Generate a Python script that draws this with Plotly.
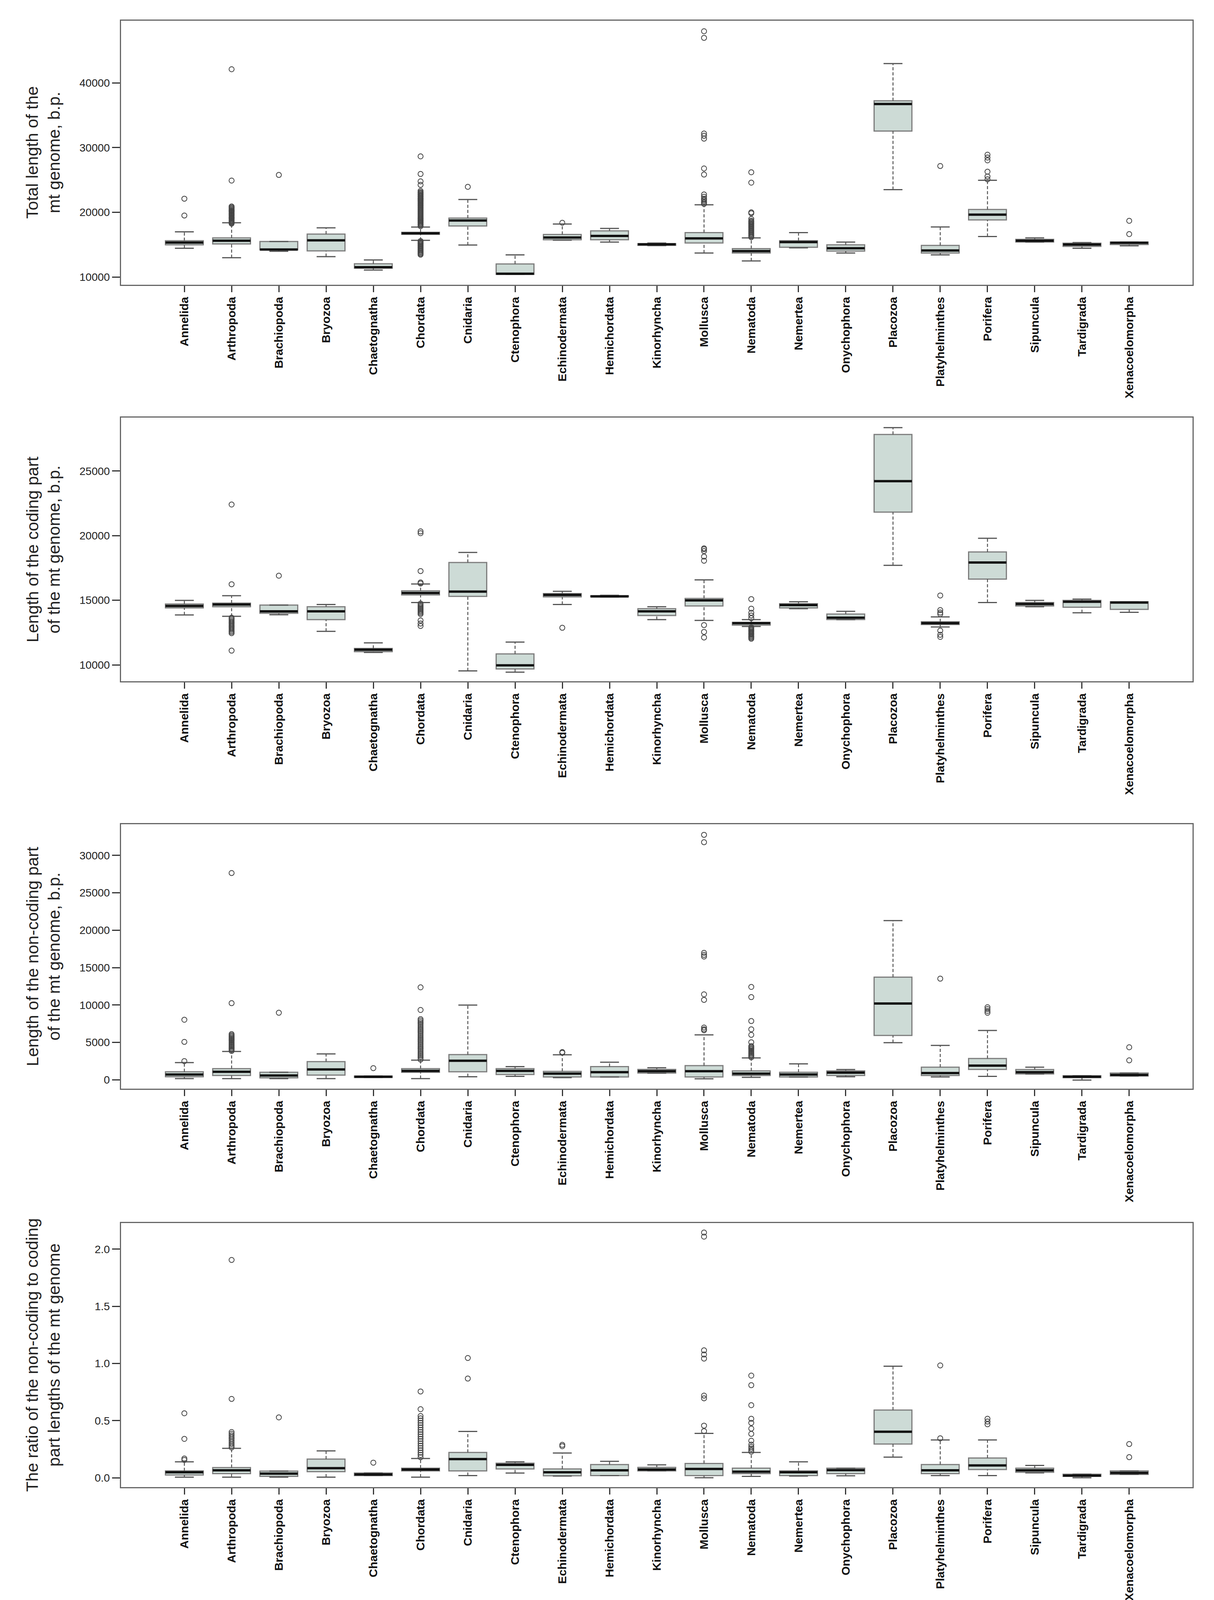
import plotly.graph_objects as go

categories = ["Annelida", "Arthropoda", "Brachiopoda", "Bryozoa", "Chaetognatha", "Chordata",
              "Cnidaria", "Ctenophora", "Echinodermata", "Hemichordata", "Kinorhyncha", "Mollusca",
              "Nematoda", "Nemertea", "Onychophora", "Placozoa", "Platyhelminthes", "Porifera",
              "Sipuncula", "Tardigrada", "Xenacoelomorpha"]

# ---------------- Panel 1: total length ----------------
total_lo = [14440, 12980, 13980, 13140, 11080, 15670, 14940, 10400, 15700, 15400, 14850,
            13710, 12480, 14500, 13710, 23500, 13420, 16250, 15400, 14440, 14820]
total_q1 = [14970, 15110, 14200, 14040, 11370, 16600, 17890, 10410, 15760, 15750, 14900,
            15260, 13710, 14600, 14000, 32550, 13710, 18820, 15410, 14730, 15020]
total_med = [15320, 15610, 14250, 15670, 11520, 16750, 18730, 10500, 16100, 16340, 15050,
             15960, 14000, 15400, 14440, 36730, 14090, 19640, 15610, 15020, 15290]
total_q3 = [15610, 16050, 15490, 16630, 12050, 16900, 19110, 12020, 16570, 17130, 15150,
            16860, 14380, 15610, 14970, 37220, 14880, 20430, 15810, 15230, 15400]
total_hi = [16980, 18380, 15490, 17600, 12630, 17720, 21980, 13420, 18180, 17510, 15250,
            21160, 16050, 16860, 15400, 42980, 17740, 24950, 16050, 15320, 15400]
total_out = {
    "Annelida": [19500, 22100],
    "Arthropoda": [18250, 18400, 18520, 18650, 18800, 18950, 19080, 19200, 19350, 19500, 19620,
                   19750, 19900, 20050, 20180, 20300, 20450, 20600, 20750, 20900, 24900, 42100],
    "Brachiopoda": [25770],
    "Chordata": [17850, 18000, 18150, 18300, 18450, 18600, 18750, 18900, 19050, 19200, 19350,
                 19500, 19650, 19800, 19950, 20100, 20250, 20400, 20550, 20700, 20850, 21000,
                 21150, 21300, 21450, 21600, 21750, 21900, 22050, 22200, 22350, 22500, 22650,
                 22800, 22950, 23100, 23300, 24230, 24780, 25920, 28640,
                 15550, 15400, 15250, 15100, 14950, 14800, 14650, 14500, 14350, 14200, 14050,
                 13900, 13750, 13600, 13450],
    "Cnidaria": [23930],
    "Echinodermata": [18380],
    "Mollusca": [21300, 21500, 21700, 21900, 22100, 22400, 22750, 25830, 26770, 31380, 31820,
                 32170, 46950, 47970],
    "Nematoda": [16150, 16300, 16450, 16600, 16750, 16900, 17050, 17200, 17350, 17500, 17650,
                 17800, 17950, 18100, 18250, 18400, 18550, 18700, 18970, 19850, 20000, 24580, 26180],
    "Platyhelminthes": [27150],
    "Porifera": [25100, 25540, 26270, 28020, 28460, 28900],
    "Xenacoelomorpha": [16630, 18680],
}
total_ticks = [10000, 20000, 30000, 40000]
total_ticklabels = ["10000", "20000", "30000", "40000"]
total_range = [8800, 49600]

# ---------------- Panel 2: coding part ----------------
coding_lo = [13860, 13760, 13880, 12590, 10960, 14820, 9530, 9430, 14670, 15250, 13500,
             13440, 12970, 14350, 13500, 17700, 12930, 14820, 14500, 14030, 14070]
coding_q1 = [14410, 14500, 13990, 13500, 11020, 15410, 15300, 9680, 15260, 15270, 13820,
             14560, 13080, 14410, 13510, 21820, 13120, 16640, 14560, 14460, 14290]
coding_med = [14560, 14670, 14140, 14140, 11170, 15560, 15670, 9960, 15410, 15300, 14140,
              14990, 13230, 14630, 13650, 24220, 13230, 17920, 14710, 14880, 14820]
coding_q3 = [14710, 14780, 14630, 14500, 11270, 15730, 17920, 10850, 15520, 15350, 14350,
             15140, 13290, 14730, 13930, 27830, 13330, 18740, 14820, 14990, 14880]
coding_hi = [14990, 15350, 14630, 14670, 11700, 16260, 18700, 11760, 15690, 15380, 14500,
             16580, 13500, 14880, 14140, 28360, 13710, 19800, 14990, 15090, 14880]
coding_out = {
    "Arthropoda": [16240, 22410, 13650, 13550, 13450, 13350, 13250, 13150, 13050, 12950, 12850,
                   12750, 12650, 12550, 12450, 11100],
    "Brachiopoda": [16900],
    "Chordata": [16300, 16380, 17260, 20190, 20330, 14740, 14650, 14560, 14470, 14380, 14290,
                 14200, 14110, 14020, 13930, 13440, 13200, 13010],
    "Echinodermata": [12870],
    "Mollusca": [18060, 18380, 18810, 18950, 19020, 13080, 12550, 12120],
    "Nematoda": [13610, 13820, 14030, 14350, 15090, 12900, 12820, 12740, 12660, 12580, 12500,
                 12420, 12340, 12260, 12180, 12100, 12020],
    "Platyhelminthes": [13930, 14050, 14240, 15370, 12650, 12330, 12160],
}
coding_ticks = [10000, 15000, 20000, 25000]
coding_ticklabels = ["10000", "15000", "20000", "25000"]
coding_range = [8730, 29140]

# ---------------- Panel 3: non-coding part ----------------
noncod_lo = [150, 150, 150, 150, 290, 150, 400, 440, 270, 370, 880,
             120, 320, 370, 400, 4960, 370, 440, 760, -50, 490]
noncod_q1 = [400, 570, 250, 620, 300, 990, 1060, 690, 370, 370, 890,
             370, 570, 370, 570, 5920, 570, 1380, 770, 270, 500]
noncod_med = [690, 1060, 570, 1380, 400, 1180, 2540, 1180, 810, 1010, 1140,
              1140, 810, 690, 940, 10190, 890, 1880, 1010, 400, 640]
noncod_q3 = [1060, 1480, 990, 2420, 490, 1480, 3360, 1480, 1110, 1750, 1380,
             1880, 1180, 990, 1180, 13720, 1680, 2840, 1360, 520, 890]
noncod_hi = [2290, 3780, 990, 3450, 500, 2620, 9990, 1750, 3330, 2340, 1600,
             6000, 2910, 2120, 1360, 21290, 4590, 6590, 1680, 520, 890]
noncod_out = {
    "Annelida": [2490, 5060, 8020],
    "Arthropoda": [3850, 4000, 4150, 4300, 4450, 4600, 4750, 4900, 5050, 5200, 5350, 5500,
                   5650, 5800, 5950, 6100, 10240, 27650],
    "Brachiopoda": [8960],
    "Chaetognatha": [1550],
    "Chordata": [2700, 2900, 3100, 3300, 3500, 3700, 3900, 4100, 4300, 4500, 4700, 4900, 5100,
                 5300, 5500, 5700, 5900, 6100, 6300, 6500, 6700, 6900, 7100, 7300, 7500, 7700,
                 7900, 8100, 9330, 12360],
    "Echinodermata": [3600, 3700],
    "Mollusca": [6610, 6750, 6980, 10680, 11420, 16480, 16700, 16970, 31770, 32760],
    "Nematoda": [3000, 3150, 3300, 3450, 3600, 3750, 3900, 4050, 4200, 4350, 4500, 5010, 6000,
                 6740, 7850, 11050, 12410],
    "Platyhelminthes": [13520],
    "Porifera": [8960, 9200, 9450, 9700],
    "Xenacoelomorpha": [2590, 4340],
}
noncod_ticks = [0, 5000, 10000, 15000, 20000, 25000, 30000]
noncod_ticklabels = ["0", "5000", "10000", "15000", "20000", "25000", "30000"]
noncod_range = [-1200, 34180]

# ---------------- Panel 4: ratio ----------------
ratio_lo = [0.005, 0.005, 0.005, 0.005, 0.019, 0.005, 0.019, 0.041, 0.015, 0.019, 0.060,
            0.0, 0.012, 0.015, 0.017, 0.18, 0.019, 0.019, 0.043, 0.0, 0.029]
ratio_q1 = [0.024, 0.036, 0.012, 0.053, 0.019, 0.060, 0.060, 0.077, 0.017, 0.019, 0.060,
            0.019, 0.036, 0.019, 0.036, 0.295, 0.036, 0.072, 0.048, 0.012, 0.029]
ratio_med = [0.048, 0.065, 0.036, 0.084, 0.029, 0.072, 0.163, 0.113, 0.048, 0.065, 0.072,
             0.077, 0.053, 0.048, 0.067, 0.403, 0.065, 0.108, 0.065, 0.019, 0.043]
ratio_q3 = [0.060, 0.089, 0.058, 0.163, 0.041, 0.084, 0.221, 0.127, 0.077, 0.115, 0.091,
            0.125, 0.084, 0.060, 0.084, 0.592, 0.115, 0.173, 0.084, 0.031, 0.060]
ratio_hi = [0.139, 0.257, 0.058, 0.235, 0.041, 0.168, 0.405, 0.139, 0.216, 0.144, 0.113,
            0.388, 0.221, 0.139, 0.084, 0.976, 0.331, 0.331, 0.108, 0.031, 0.060]
ratio_out = {
    "Annelida": [0.156, 0.168, 0.340, 0.564],
    "Arthropoda": [0.265, 0.28, 0.295, 0.31, 0.325, 0.34, 0.355, 0.37, 0.385, 0.40, 0.69, 1.906],
    "Brachiopoda": [0.528],
    "Chaetognatha": [0.132],
    "Chordata": [0.18, 0.2, 0.22, 0.24, 0.26, 0.28, 0.30, 0.32, 0.34, 0.36, 0.38, 0.40, 0.42,
                 0.44, 0.46, 0.48, 0.50, 0.52, 0.54, 0.60, 0.755],
    "Cnidaria": [0.868, 1.048],
    "Echinodermata": [0.276, 0.288],
    "Mollusca": [0.408, 0.456, 0.695, 0.719, 1.043, 1.079, 1.115, 2.110, 2.146],
    "Nematoda": [0.228, 0.24, 0.255, 0.27, 0.29, 0.324, 0.384, 0.43, 0.48, 0.516, 0.635, 0.81, 0.894],
    "Platyhelminthes": [0.345, 0.983],
    "Porifera": [0.468, 0.492, 0.516],
    "Xenacoelomorpha": [0.18, 0.295],
}
ratio_ticks = [0.0, 0.5, 1.0, 1.5, 2.0]
ratio_ticklabels = ["0.0", "0.5", "1.0", "1.5", "2.0"]
ratio_range = [-0.082, 2.229]

titles = ["Total length of the<br>mt genome, b.p.",
          "Length of the coding part<br>of the mt genome, b.p.",
          "Length of the non-coding part<br>of the mt genome, b.p.",
          "The ratio of the non-coding to coding<br>part lengths of the mt genome"]

panels = [
    (total_lo, total_q1, total_med, total_q3, total_hi, total_out, total_ticks, total_ticklabels, total_range),
    (coding_lo, coding_q1, coding_med, coding_q3, coding_hi, coding_out, coding_ticks, coding_ticklabels, coding_range),
    (noncod_lo, noncod_q1, noncod_med, noncod_q3, noncod_hi, noncod_out, noncod_ticks, noncod_ticklabels, noncod_range),
    (ratio_lo, ratio_q1, ratio_med, ratio_q3, ratio_hi, ratio_out, ratio_ticks, ratio_ticklabels, ratio_range),
]

# ---------------- layout geometry ----------------
W, H = 3109, 4159
x_dom = [302 / W, 3046 / W]
panel_px = [(45, 721), (1061, 1736), (2102, 2779), (3123, 3799)]
BOX_W = 0.8
STAPLE_HALF = 0.2
FILL = "#cddbd6"
BOX_LINE = "#7d7d7d"
FONT = "Liberation Sans, Arial, sans-serif"

pos = list(range(len(categories)))
fig = go.Figure()
layout_axes = {}
annotations = []

for k, (lo, q1, med, q3, hi, outs, ticks, ticklabels, yr) in enumerate(panels, start=1):
    xa = "x" if k == 1 else f"x{k}"
    ya = "y" if k == 1 else f"y{k}"

    # dashed whiskers
    wx, wy = [], []
    for i in pos:
        wx += [i, i, None, i, i, None]
        wy += [lo[i], q1[i], None, q3[i], hi[i], None]
    fig.add_trace(go.Scatter(x=wx, y=wy, mode="lines", xaxis=xa, yaxis=ya,
                             line=dict(color="#555555", width=2.5, dash="8px,5px"),
                             hoverinfo="skip", showlegend=False))

    # boxes
    fig.add_trace(go.Box(x=pos, q1=q1, median=med, q3=q3, lowerfence=q1, upperfence=q3,
                         width=BOX_W, fillcolor=FILL, line=dict(color=BOX_LINE, width=3),
                         whiskerwidth=0, boxpoints=False, xaxis=xa, yaxis=ya,
                         hoverinfo="skip", showlegend=False))

    # staples
    sx, sy = [], []
    for i in pos:
        sx += [i - STAPLE_HALF, i + STAPLE_HALF, None, i - STAPLE_HALF, i + STAPLE_HALF, None]
        sy += [lo[i], lo[i], None, hi[i], hi[i], None]
    fig.add_trace(go.Scatter(x=sx, y=sy, mode="lines", xaxis=xa, yaxis=ya,
                             line=dict(color="#555555", width=3),
                             hoverinfo="skip", showlegend=False))

    # medians
    mx, my = [], []
    for i in pos:
        mx += [i - BOX_W / 2, i + BOX_W / 2, None]
        my += [med[i], med[i], None]
    fig.add_trace(go.Scatter(x=mx, y=my, mode="lines", xaxis=xa, yaxis=ya,
                             line=dict(color="#111111", width=6),
                             hoverinfo="skip", showlegend=False))

    # outliers
    ox, oy = [], []
    for name, vals in outs.items():
        i = categories.index(name)
        ox += [i] * len(vals)
        oy += vals
    fig.add_trace(go.Scatter(x=ox, y=oy, mode="markers", xaxis=xa, yaxis=ya,
                             marker=dict(symbol="circle-open", size=13,
                                         line=dict(color="#444444", width=2), color="#444444"),
                             hoverinfo="skip", showlegend=False))

    top, bot = panel_px[k - 1]
    y_dom = [1 - bot / H, 1 - top / H]
    axis_common = dict(showline=True, linecolor="#666666", linewidth=3, mirror=True,
                       ticks="outside", tickwidth=3, tickcolor="#333333",
                       showgrid=False, zeroline=False, automargin=False)
    layout_axes["xaxis" if k == 1 else f"xaxis{k}"] = dict(
        domain=x_dom, anchor=ya, range=[-1.34, 21.34], tickmode="array",
        tickvals=pos, ticktext=categories, tickangle=-90, ticklen=16,
        tickfont=dict(family=FONT, size=30, color="#111111", weight="bold"), **axis_common)
    layout_axes["yaxis" if k == 1 else f"yaxis{k}"] = dict(
        domain=y_dom, anchor=xa, range=yr, tickmode="array", tickvals=ticks,
        ticktext=ticklabels, ticklen=20,
        tickfont=dict(family=FONT, size=28, color="#222222"), **axis_common)

    annotations.append(dict(text=titles[k - 1], xref="paper", yref="paper",
                            x=102 / W, y=(y_dom[0] + y_dom[1]) / 2, xanchor="center",
                            yanchor="middle", textangle=-90, showarrow=False,
                            font=dict(family=FONT, size=43, color="#222222")))

fig.update_layout(width=W, height=H, margin=dict(l=0, r=0, t=0, b=0),
                  paper_bgcolor="white", plot_bgcolor="white",
                  annotations=annotations, showlegend=False, **layout_axes)

fig.write_html("out.html")
